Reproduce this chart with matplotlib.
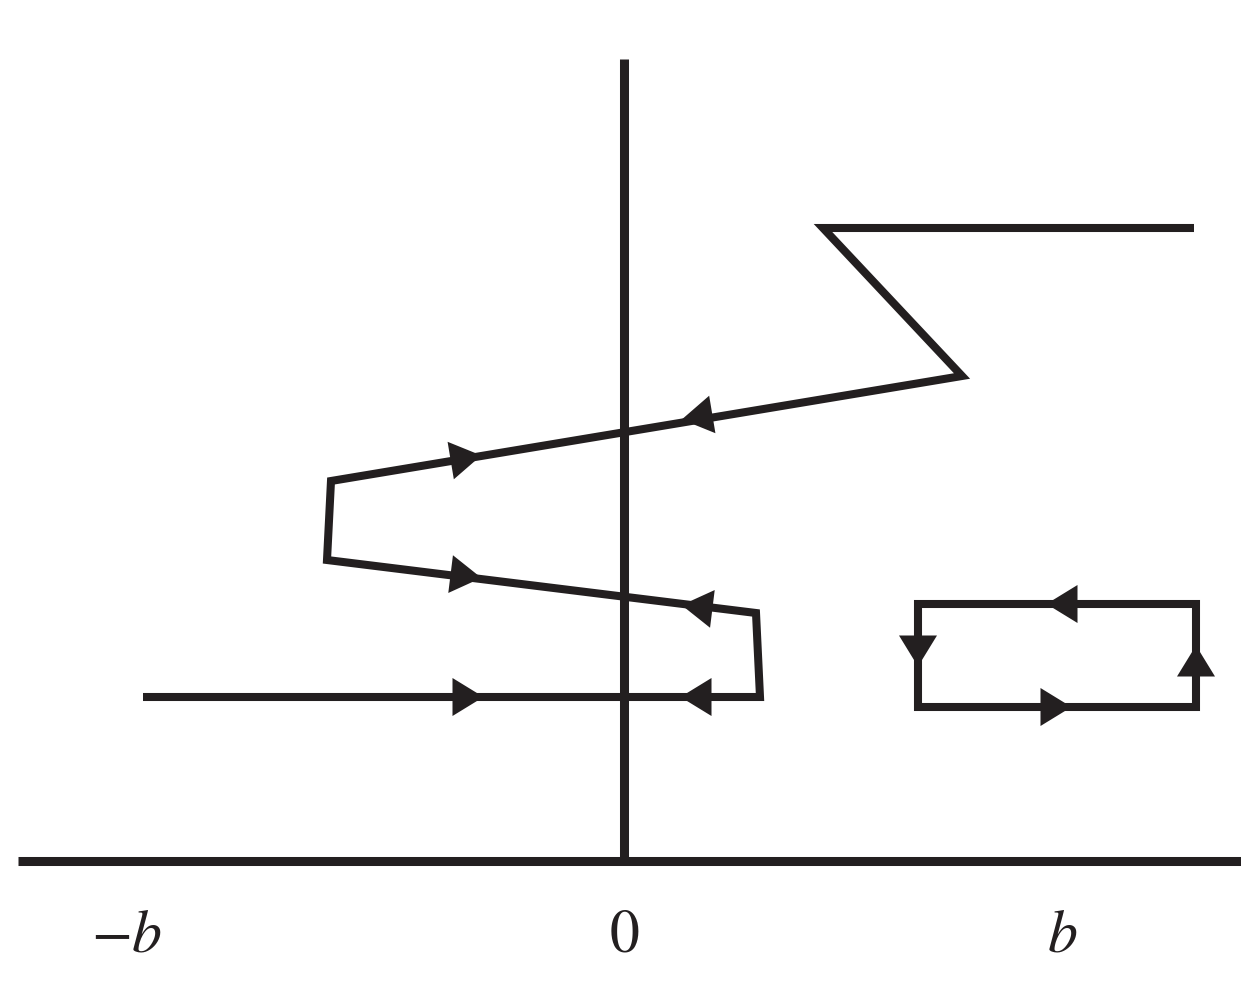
import matplotlib
matplotlib.use('Agg')
import matplotlib.pyplot as plt
from matplotlib.patches import Polygon
import numpy as np

plt.rcParams['mathtext.fontset'] = 'stix'

# diagram geometry, in pixel units of the picture (y grows downwards)
path_x = [143, 760, 756, 327, 331, 962, 823, 1194]
path_y = [698, 698, 614, 561, 482, 377, 229, 229]

loop_x = [918, 1196, 1196, 918]
loop_y = [605, 605, 708, 708]

# arrow heads: centre x, centre y, direction x, direction y
arrow_x = [468, 696, 466, 697, 466, 697, 1062, 918, 1056, 1196]
arrow_y = [698, 698, 577, 608, 459, 418, 605, 652, 708, 662]
arrow_dx = [1, -1, 429, -429, 631, -631, -1, 0, 1, 0]
arrow_dy = [0, 0, 53, -53, -105, 105, 0, 1, 0, -1]

tick_labels = [r'$-b$', r'$0$', r'$b$']
tick_x = [127, 624, 1062]

fig = plt.figure(figsize=(12.41, 9.87), dpi=100)
ax = fig.add_axes([0, 0, 1, 1])
ax.set_xlim(0, 1241)
ax.set_ylim(987, 0)
ax.axis('off')

col = '#231f20'

# axes of the diagram
ax.plot([18, 1241], [862, 862], color=col, lw=6.5, solid_capstyle='butt')
ax.plot([624, 624], [60, 862], color=col, lw=6.5, solid_capstyle='butt')

ax.plot(path_x, path_y, color=col, lw=5.8, solid_joinstyle='miter', solid_capstyle='butt')
ax.add_patch(Polygon(np.column_stack([loop_x, loop_y]), closed=True, fill=False,
                     edgecolor=col, lw=5.8, joinstyle='miter'))

L, W = 31, 19
for cx, cy, dx, dy in zip(arrow_x, arrow_y, arrow_dx, arrow_dy):
    d = np.array([dx, dy], float)
    d = d / np.hypot(*d)
    n = np.array([-d[1], d[0]])
    c = np.array([cx, cy], float)
    tip = c + d * L * 0.5
    b1 = c - d * L * 0.5 + n * W
    b2 = c - d * L * 0.5 - n * W
    tri = np.array([tip, b1, b2])
    ax.fill(tri[:, 0], tri[:, 1], color=col, lw=0)

for lab, x in zip(tick_labels, tick_x):
    ax.text(x, 935, lab, fontsize=43, ha='center', va='center', color=col)

fig.savefig('out.png', dpi=100)
